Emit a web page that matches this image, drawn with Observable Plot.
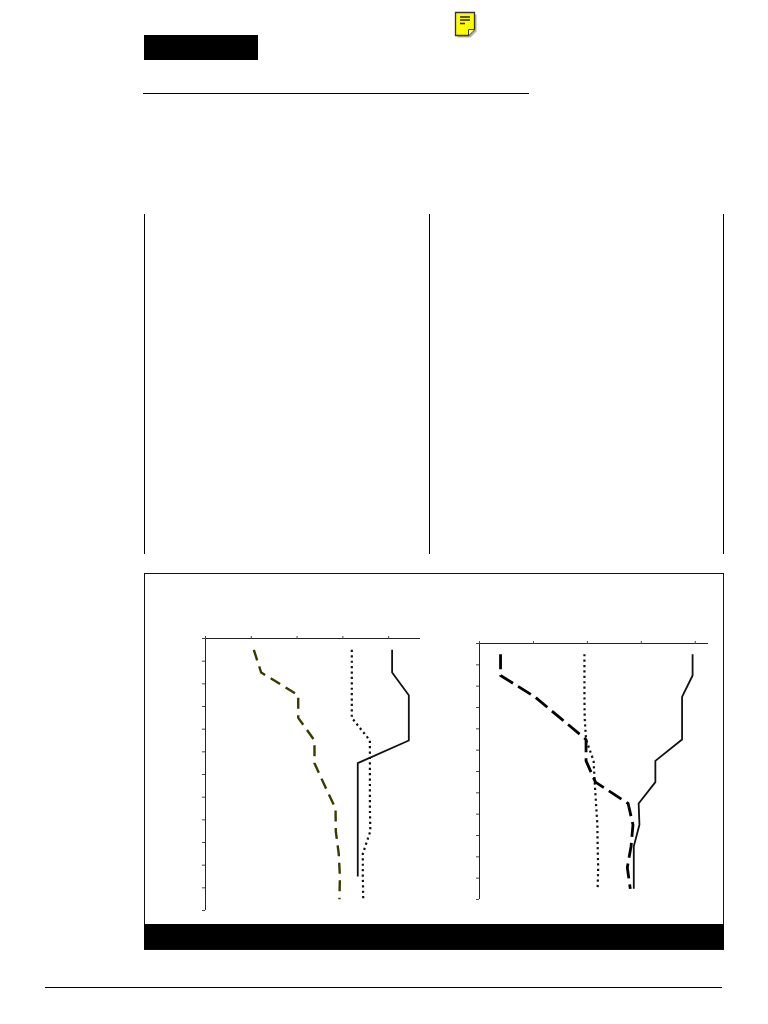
<!DOCTYPE html>
<html>
<head>
<meta charset="utf-8">
<script src="https://cdn.jsdelivr.net/npm/d3@7"></script>
<script src="https://cdn.jsdelivr.net/npm/@observablehq/plot@0.6"></script>
<style>
html,body{margin:0;padding:0;background:#fff;}
#page{position:relative;width:768px;height:1024px;overflow:hidden;background:#fff;}
.b{position:absolute;background:#000;}
#frame{position:absolute;left:144px;top:573px;width:578px;height:375px;border:1px solid #111;box-sizing:content-box;}
.chart{position:absolute;}
.chart svg{display:block;overflow:visible;background:transparent;}
#note{position:absolute;left:453px;top:10px;}
</style>
</head>
<body>
<div id="page">
  <div class="b" style="left:144px;top:35px;width:114px;height:25px"></div>
  <div class="b" style="left:143px;top:93px;width:386px;height:1px"></div>
  <div class="b" style="left:144px;top:214px;width:1px;height:340px"></div>
  <div class="b" style="left:429px;top:214px;width:1px;height:340px"></div>
  <div class="b" style="left:723px;top:214px;width:1px;height:340px"></div>
  <div id="frame"></div>
  <div class="b" style="left:144px;top:924px;width:580px;height:25px"></div>
  <div class="b" style="left:45px;top:987px;width:677px;height:1px"></div>
  <svg id="note" width="26" height="28" viewBox="0 0 26 28">
    <path d="M3 3H22V20L16 26H3Z" fill="#555" transform="translate(1.5,1.5)" opacity=".45"/>
    <path d="M2.500 2.500H21.500V19.500L15.500 25.500H2.500Z" fill="#ffff00" stroke="#333" stroke-width="1.300"/>
    <path d="M15.500 25.500V19.500H21.500" fill="#fff8a0" stroke="#333" stroke-width="1"/>
    <path d="M7 7H17M7 10H17M7 13.500H12" stroke="#222" stroke-width="1.300"/>
  </svg>
  <div class="chart" id="left" style="left:190px;top:625px"></div>
  <div class="chart" id="right" style="left:465px;top:630px"></div>
</div>
<script>
const tickValues = [0, 20, 40, 60, 80];
const rowTicks = [0, 1, 2, 3, 4, 5, 6, 7, 8, 9, 10, 11, 12];
const rows = [0.5, 1.5, 2.5, 3.5, 4.5, 5.5, 6.5, 7.5, 8.5, 9.5, 10.5, 11.5];

const leftSolid  = [81.5, 81.5, 88.8, 88.8, 88.8, 66.5, 66.5, 66.5, 66.5, 66.5, 66.5];
const leftDotted = [63.9, 63.9, 63.9, 63.9, 71.8, 71.8, 71.8, 71.8, 72.0, 68.7, 68.7, 68.9];
const leftDashed = [21.1, 24.3, 40.5, 40.5, 47.6, 47.6, 52.1, 56.8, 56.9, 58.2, 58.7, 58.5];

const rightSolid  = [79.0, 79.0, 75.1, 75.1, 75.1, 65.2, 65.2, 59.0, 59.3, 57.2, 57.2, 57.2];
const rightDotted = [38.9, 38.9, 38.9, 39.0, 39.5, 42.3, 42.7, 43.2, 43.7, 43.8, 44.0, 43.8];
const rightDashed = [7.8, 7.8, 20.5, 30.0, 39.5, 39.5, 43.0, 55.1, 56.9, 56.2, 54.8, 55.9];

function toRows(values) {
  return values.map((v, i) => ({value: v, row: rows[i]}));
}

function profile(el, cfg) {
  const chart = Plot.plot({
    width: cfg.width, height: cfg.height,
    marginLeft: cfg.ml, marginTop: cfg.mt, marginRight: cfg.mr, marginBottom: cfg.mb,
    x: {domain: [0, cfg.xMax], axis: null},
    y: {domain: [0, 12], reverse: true, axis: null},
    style: {background: "transparent"},
    marks: [
      Plot.ruleY([0], {stroke: "#222", strokeWidth: 1}),
      Plot.ruleX([0], {stroke: "#222", strokeWidth: 1}),
      Plot.axisX({anchor: "top", ticks: tickValues, tickFormat: () => "", tickSize: 3, stroke: "#444", label: null}),
      Plot.axisY({anchor: "left", ticks: rowTicks, tickFormat: () => "", tickSize: 3, stroke: "#444", label: null}),
      Plot.line(toRows(cfg.solid), {x: "value", y: "row", stroke: "#111", strokeWidth: 1.8, strokeLinecap: "butt"}),
      Plot.line(toRows(cfg.dotted), {x: "value", y: "row", stroke: "#111", strokeWidth: 2.2, strokeLinecap: "butt", strokeDasharray: "2.2,3.2"}),
      Plot.line(toRows(cfg.dashed), {x: "value", y: "row", stroke: cfg.dashColor, strokeWidth: cfg.dashWidth, strokeLinecap: "butt", strokeDasharray: cfg.dash})
    ]
  });
  document.getElementById(el).appendChild(chart);
}

profile("left", {width: 240, height: 295, ml: 15, mt: 13, mr: 10, mb: 10, xMax: 93.9,
  solid: leftSolid, dotted: leftDotted, dashed: leftDashed, dashColor: "#3a3a00", dashWidth: 2.4, dash: "11,6.5"});
profile("right", {width: 250, height: 280, ml: 14, mt: 13, mr: 7, mb: 11, xMax: 84.9,
  solid: rightSolid, dotted: rightDotted, dashed: rightDashed, dashColor: "#000", dashWidth: 2.8, dash: "15,6"});
</script>
</body>
</html>
